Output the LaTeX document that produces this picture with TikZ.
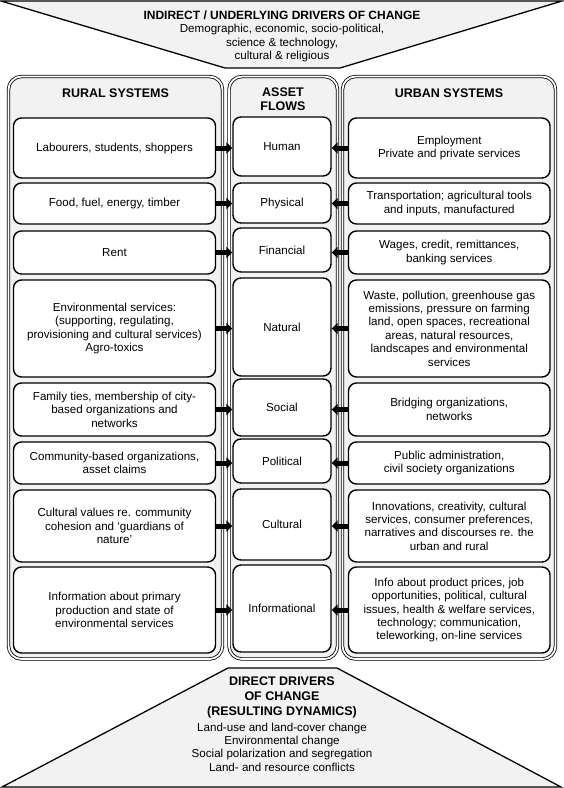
\documentclass[tikz,border=0pt]{standalone}
\usepackage{fontspec}
\setmainfont{Liberation Sans}
\usetikzlibrary{arrows.meta}
\definecolor{panel}{HTML}{F2F2F2}
\tikzset{
  txt/.style={font=\fontsize{11.6}{13.4}\selectfont, align=center, inner sep=0pt},
  hdr/.style={font=\bfseries\fontsize{12.5}{15}\selectfont, align=center, inner sep=0pt},
  col/.style={draw=black, fill=panel, line width=0.8pt, double=white, double distance=1.8pt, rounded corners=13pt, minimum width=#1, inner sep=0pt},
  ibox/.style={draw=black, fill=white, line width=1.4pt, rounded corners=8pt, align=center, inner sep=0pt, font=\fontsize{11.6}{13.4}\selectfont},
  trap/.style={draw=black, fill=panel, line width=1.3pt, line join=miter},
  fat/.style={line width=5pt, -{Triangle[length=6pt,width=11pt]}}
}
\newcommand{\rb}[4]{\node[ibox, minimum width=202pt, minimum height=#3pt] (#1) at (114.5,#2) {#4};}
\newcommand{\ab}[4]{\node[ibox, minimum width=98pt, minimum height=#3pt] (#1) at (282,#2) {#4};}
\newcommand{\ub}[4]{\node[ibox, minimum width=201.5pt, minimum height=#3pt] (#1) at (449.25,#2) {#4};}
\begin{document}
\begin{tikzpicture}[x=1pt,y=-1pt]
\useasboundingbox (0,0) rectangle (563,788);
% top trapezoid
\draw[trap] (1,1) -- (562,1) -- (340,68) -- (225,68) -- cycle;
\node[hdr, font=\bfseries\fontsize{12}{15}\selectfont] (toptitle) at (282,15) {INDIRECT / UNDERLYING DRIVERS OF CHANGE};
\node[txt] (toptext) at (282,43) {Demographic, economic, socio-political,\\science \& technology,\\cultural \& religious};
% columns
\node[col=214pt, minimum height=582.5pt] (rural) at (115.5,367.75) {};
\node[col=108.5pt, minimum height=582.5pt] (asset) at (283.25,367.75) {};
\node[col=213pt, minimum height=582.5pt] (urban) at (449,367.75) {};
\node[hdr] (ruralh) at (115.5,93) {RURAL SYSTEMS};
\node[hdr, font=\bfseries\fontsize{12.5}{14}\selectfont] (asseth) at (283,99) {ASSET\\FLOWS};
\node[hdr] (urbanh) at (449,93) {URBAN SYSTEMS};
% rows
\rb{r1}{148}{60}{Labourers, students, shoppers}
\ab{a1}{146.5}{59}{Human}
\ub{u1}{148}{60}{Employment\\Private and private services}
\rb{r2}{203.5}{41}{Food, fuel, energy, timber}
\ab{a2}{203}{40}{Physical}
\ub{u2}{203.5}{41}{Transportation; agricultural tools\\and inputs, manufactured}
\rb{r3}{252.5}{43}{Rent}
\ab{a3}{250}{44}{Financial}
\ub{u3}{252.5}{43}{Wages, credit, remittances,\\banking services}
\rb{r4}{328.5}{97}{Environmental services:\\(supporting, regulating,\\provisioning and cultural services)\\Agro-toxics}
\ab{a4}{327}{98}{Natural}
\ub{u4}{328.5}{97}{Waste, pollution, greenhouse gas\\emissions, pressure on farming\\land, open spaces, recreational\\areas, natural resources,\\landscapes and environmental\\services}
\rb{r5}{409.5}{53}{Family ties, membership of city-\\based organizations and\\networks}
\ab{a5}{407.5}{57}{Social}
\ub{u5}{409.5}{53}{Bridging organizations,\\networks}
\rb{r6}{463}{42}{Community-based organizations,\\asset claims}
\ab{a6}{461}{44}{Political}
\ub{u6}{463}{42}{Public administration,\\civil society organizations}
\rb{r7}{526}{72}{Cultural values re. community\\cohesion and ‘guardians of\\nature’}
\ab{a7}{524.5}{71}{Cultural}
\ub{u7}{526}{72}{Innovations, creativity, cultural\\services, consumer preferences,\\narratives and discourses re. the\\urban and rural}
\rb{r8}{610}{86}{Information about primary\\production and state of\\environmental services}
\ab{a8}{608.5}{87}{Informational}
\ub{u8}{610}{86}{Info about product prices, job\\opportunities, political, cultural\\issues, health \& welfare services,\\technology; communication,\\teleworking, on-line services}
% arrows
\foreach \i in {1,...,8}{
  \draw[fat] (r\i.east) -- (r\i.east -| a\i.west);
  \draw[fat] (u\i.west) -- (u\i.west -| a\i.east);
}
% bottom trapezoid
\draw[trap] (228,668) -- (337,668) -- (561,787) -- (2,787) -- cycle;
\node[hdr, font=\bfseries\fontsize{12.5}{15}\selectfont] (bottitle) at (282,697) {DIRECT DRIVERS\\OF CHANGE\\(RESULTING DYNAMICS)};
\node[txt] (bottext) at (282,747) {Land-use and land-cover change\\Environmental change\\Social polarization and segregation\\Land- and resource conflicts};
\end{tikzpicture}
\end{document}
